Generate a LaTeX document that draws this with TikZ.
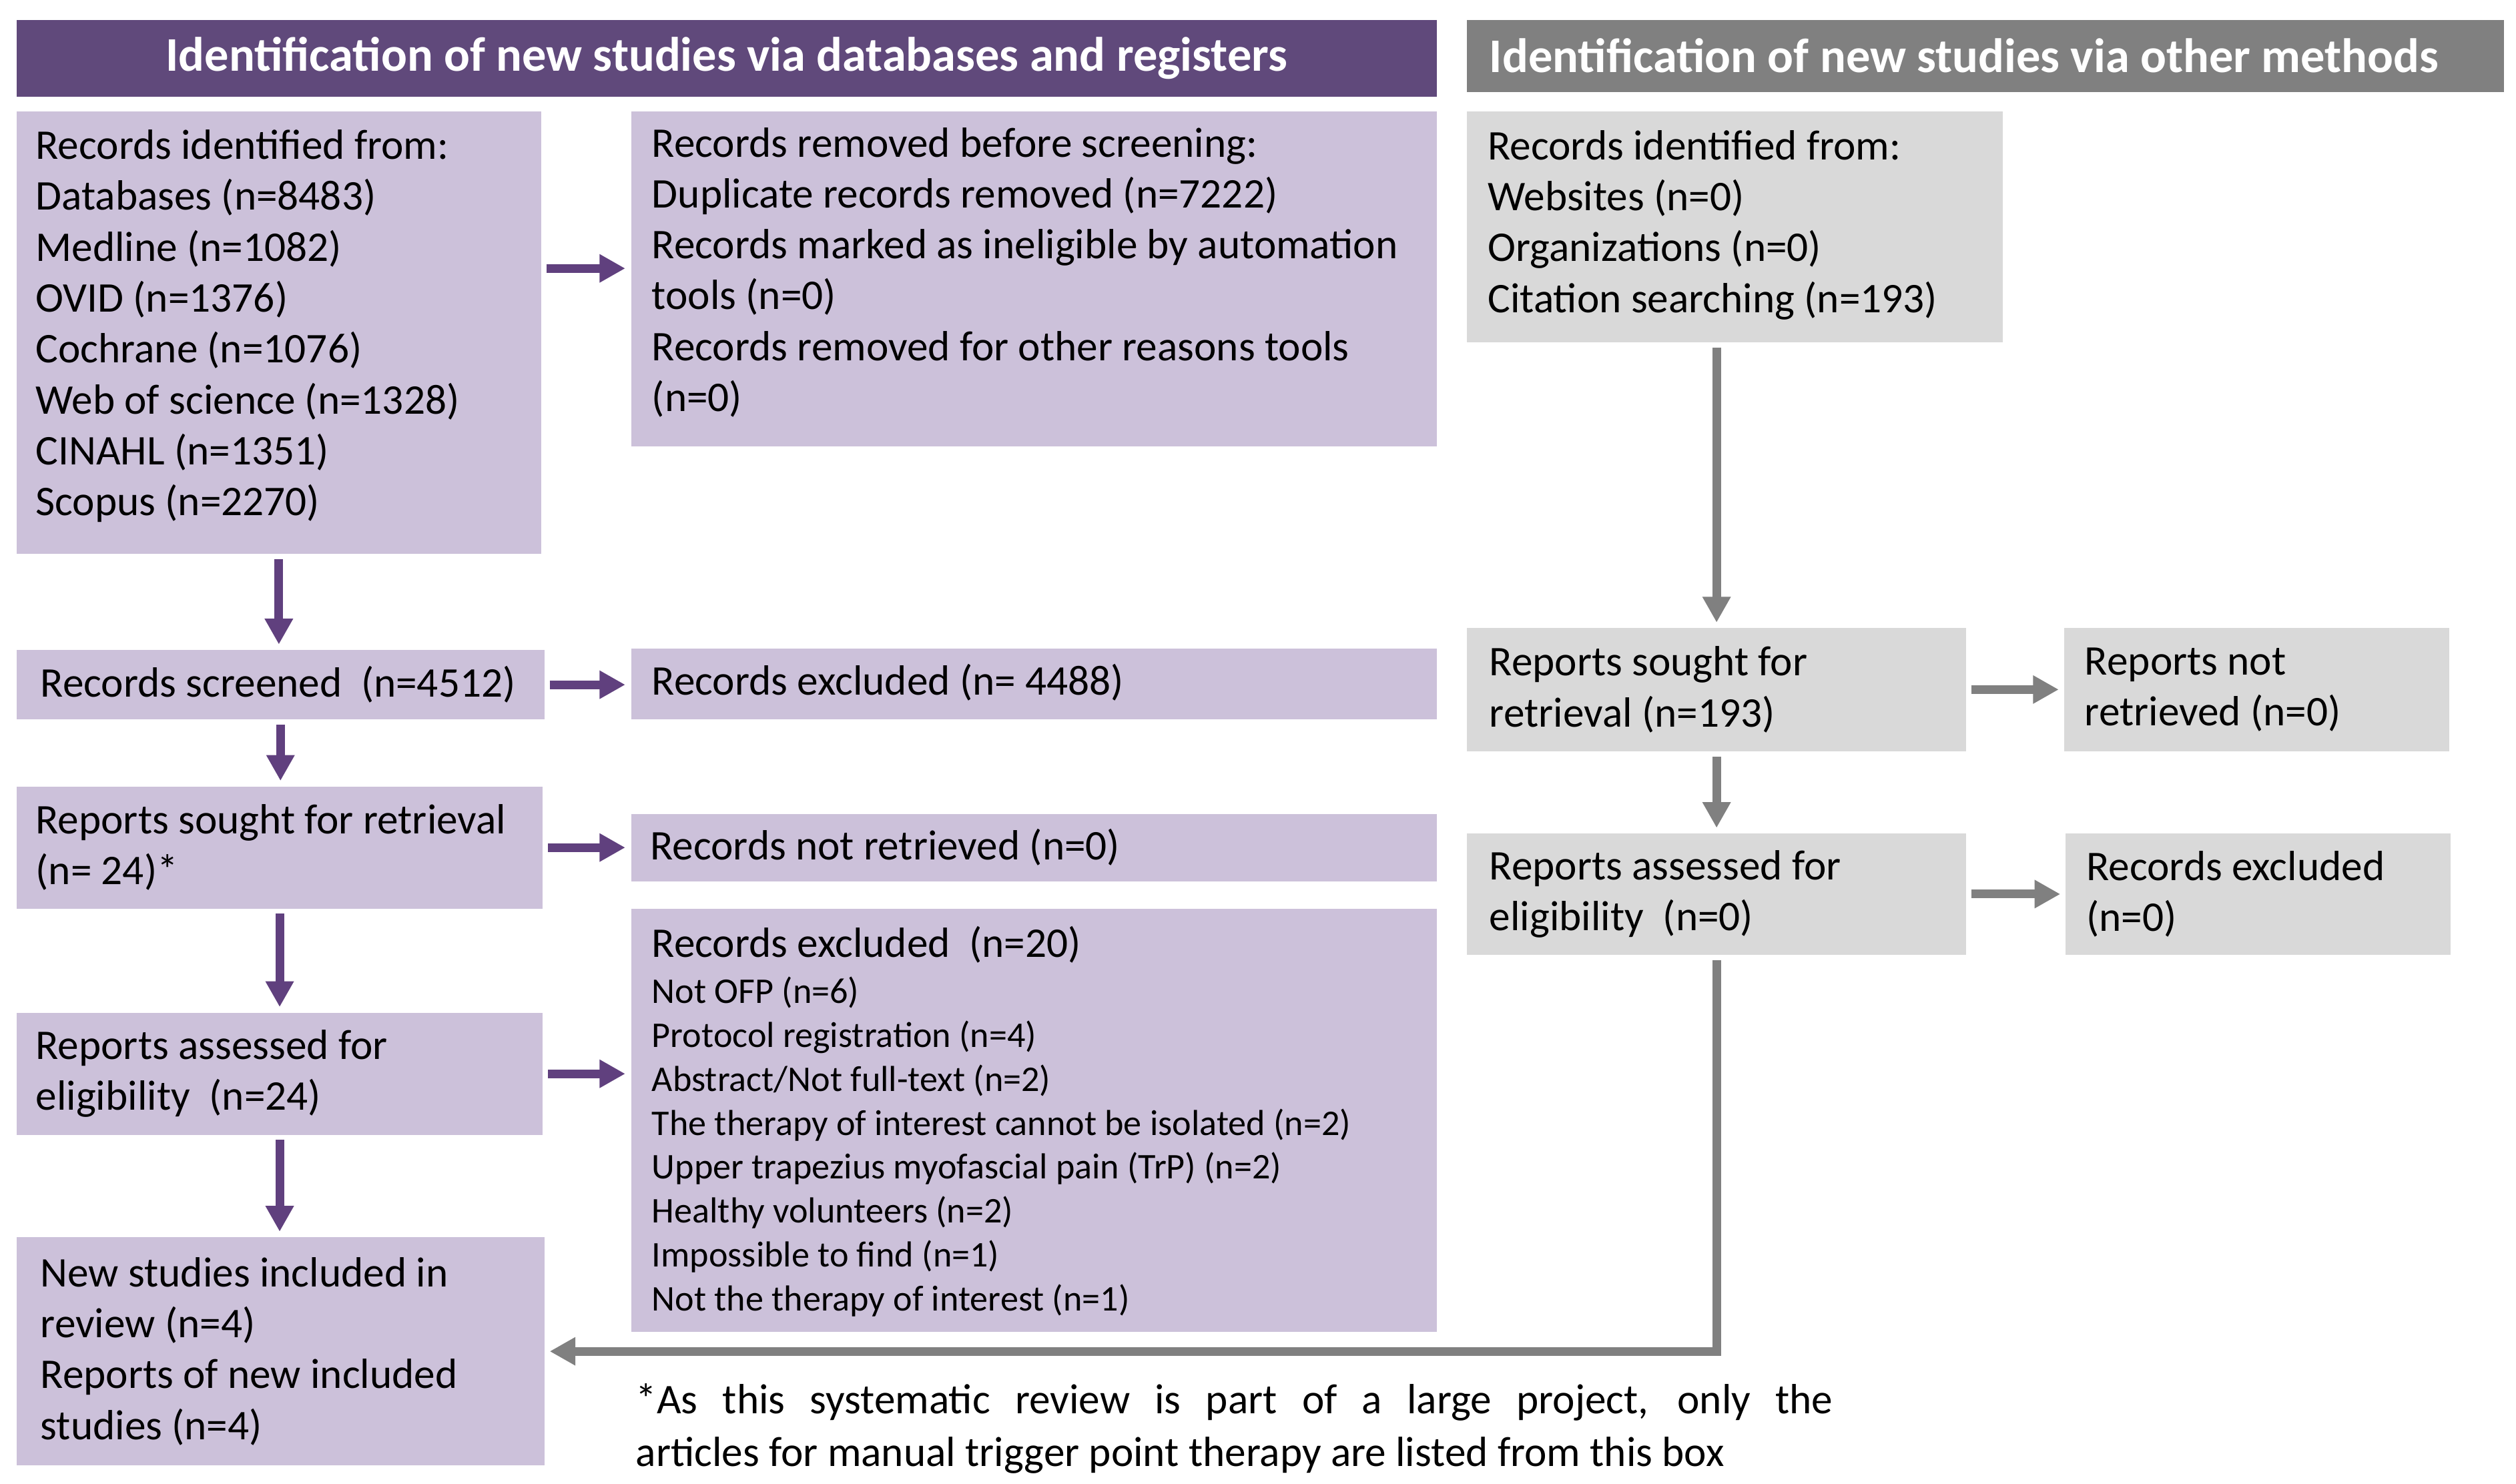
\documentclass[tikz,border=0pt]{standalone}
\usepackage{fontspec}
\setmainfont{Carlito}
\usetikzlibrary{arrows.meta}
\definecolor{hpurple}{RGB}{96,73,123}
\definecolor{lpurple}{RGB}{204,193,218}
\definecolor{apurple}{RGB}{96,64,126}
\definecolor{hgray}{RGB}{128,128,128}
\definecolor{lgray}{RGB}{217,217,217}
\definecolor{agray}{RGB}{128,128,128}
\newcommand\uu{0.02404cm}
\newcommand\smallfnt{\fontsize{15.4}{18.7}\selectfont}
\tikzset{
  bx/.style 2 args={anchor=north west, inner sep=0pt, draw=none, minimum width=#1*\uu, minimum height=#2*\uu},
  pbox/.style={fill=lpurple},
  gbox/.style={fill=lgray},
  hdr/.style={font=\fontsize{20.6}{24}\selectfont\bfseries, text=white},
  txt/.style={anchor=west, inner sep=0pt, align=left, font=\fontsize{18}{21.7}\selectfont, text=black},
  parr/.style={draw=apurple, line width=0.13cm, -{Triangle[length=0.385cm, width=0.4cm]}, shorten <=0.072cm, shorten >=0.08cm},
  garr/.style={draw=agray, line width=0.13cm, -{Triangle[length=0.385cm, width=0.4cm]}, shorten <=0.072cm, shorten >=0.072cm},
}
\begin{document}
\begin{tikzpicture}[x=0.02404cm, y=-0.02404cm]
\useasboundingbox (0,0) rectangle (1568,924.7);
% headers
\node[bx={885}{48}, fill=hpurple, hdr] (h1) at (10,12) {Identification of new studies via databases and registers};
\node[bx={646}{45}, fill=hgray] (h2) at (914,12) {};
\node[hdr, anchor=west, inner sep=0pt] (h2t) at ([xshift=14*\uu]h2.west) {Identification of new studies via other methods};
% left column boxes
\node[bx={327}{276}, pbox] (b1) at (10,69) {};
\node[bx={502}{209}, pbox] (b2) at (393,69) {};
\node[bx={329}{43}, pbox] (scr) at (10,405) {};
\node[bx={502}{44}, pbox] (exc1) at (393,404) {};
\node[bx={328}{76}, pbox] (sought) at (10,490) {};
\node[bx={502}{42}, pbox] (notret) at (393,507) {};
\node[bx={328}{76}, pbox] (assess) at (10,631) {};
\node[bx={502}{264}, pbox] (exc2) at (393,566) {};
\node[bx={329}{142}, pbox] (incl) at (10,771) {};
% right column boxes
\node[bx={334}{144}, gbox] (g1) at (914,69) {};
\node[bx={311}{77}, gbox] (g2) at (914,391) {};
\node[bx={240}{77}, gbox] (g3) at (1286,391) {};
\node[bx={311}{76}, gbox] (g4) at (914,519) {};
\node[bx={240}{76}, gbox] (g5) at (1287,519) {};
% texts
\node[txt] (tb1) at ([xshift=12*\uu, yshift=4*\uu]b1.west) {Records identified from:\\Databases (n=8483)\\Medline (n=1082)\\OVID (n=1376)\\Cochrane (n=1076)\\Web of science (n=1328)\\CINAHL (n=1351)\\Scopus (n=2270)};
\node[txt] (tb2) at ([xshift=13*\uu, yshift=4*\uu]b2.west) {Records removed before screening:\\Duplicate records removed (n=7222)\\Records marked as ineligible by automation\\tools (n=0)\\Records removed for other reasons tools\\(n=0)};
\node[txt] (tg1) at ([xshift=13*\uu, yshift=1*\uu]g1.west) {Records identified from:\\Websites (n=0)\\Organizations (n=0)\\Citation searching (n=193)};
\node[txt] (tscr) at ([xshift=15*\uu]scr.west) {Records screened\ \ (n=4512)};
\node[txt] (texc1) at ([xshift=13*\uu, yshift=1*\uu]exc1.west) {Records excluded (n= 4488)};
\node[txt] (tsought) at ([xshift=12*\uu]sought.west) {Reports sought for retrieval\\(n= 24)*};
\node[txt] (tnotret) at ([xshift=12*\uu]notret.west) {Records not retrieved (n=0)};
\node[txt] (tassess) at ([xshift=12*\uu]assess.west) {Reports assessed for\\eligibility\ \ (n=24)};
\node[txt, anchor=base west] (texc2) at ([xshift=13*\uu]exc2.north west |- 0,625.5) {Records excluded\ \ (n=20)\\[-1.9pt]
  {\smallfnt\begin{tabular}[t]{@{}l@{}}Not OFP (n=6)\\Protocol registration (n=4)\\Abstract/Not full-text (n=2)\\The therapy of interest cannot be isolated (n=2)\\Upper trapezius myofascial pain (TrP) (n=2)\\Healthy volunteers (n=2)\\Impossible to find (n=1)\\Not the therapy of interest (n=1)\end{tabular}}};
\node[txt] (tincl) at ([xshift=15*\uu]incl.west) {New studies included in\\review (n=4)\\Reports of new included\\studies (n=4)};
\node[txt] (tg2) at ([xshift=14*\uu]g2.west) {Reports sought for\\retrieval (n=193)};
\node[txt] (tg3) at ([xshift=13*\uu]g3.west) {Reports not\\retrieved (n=0)};
\node[txt] (tg4) at ([xshift=14*\uu]g4.west) {Reports assessed for\\eligibility\ \ (n=0)};
\node[txt] (tg5) at ([xshift=13*\uu]g5.west) {Records excluded\\(n=0)};
% footnote
\node[anchor=base west, inner sep=0pt, text width=746*\uu, align=justify, font=\fontsize{18}{22.5}\selectfont] (fn) at (396,881) {*As this systematic review is part of a large project, only the\linebreak articles for manual trigger point therapy are listed from this box};
% purple arrows
\coordinate (m1) at ([yshift=6.5*\uu]b2.west);
\draw[parr] (b1.east |- m1) -- (m1);
\draw[parr] (scr.east) -- (scr.east -| exc1.west);
\draw[parr] (sought.east) -- (sought.east -| notret.west);
\draw[parr] (assess.east) -- (assess.east -| exc2.west);
\draw[parr] (b1.south) -- (b1.south |- scr.north);
\draw[parr] (scr.south) -- (scr.south |- sought.north);
\draw[parr] (sought.south) -- (sought.south |- assess.north);
\draw[parr] (assess.south) -- (assess.south |- incl.north);
% gray arrows
\draw[garr] (g1.south -| g2.north) -- (g2.north);
\draw[garr] (g2.south) -- (g4.north);
\draw[garr] (g2.east) -- (g2.east -| g3.west);
\draw[garr] (g4.east) -- (g4.east -| g5.west);
\draw[garr] (g4.south) |- (incl.east);
\end{tikzpicture}
\end{document}
